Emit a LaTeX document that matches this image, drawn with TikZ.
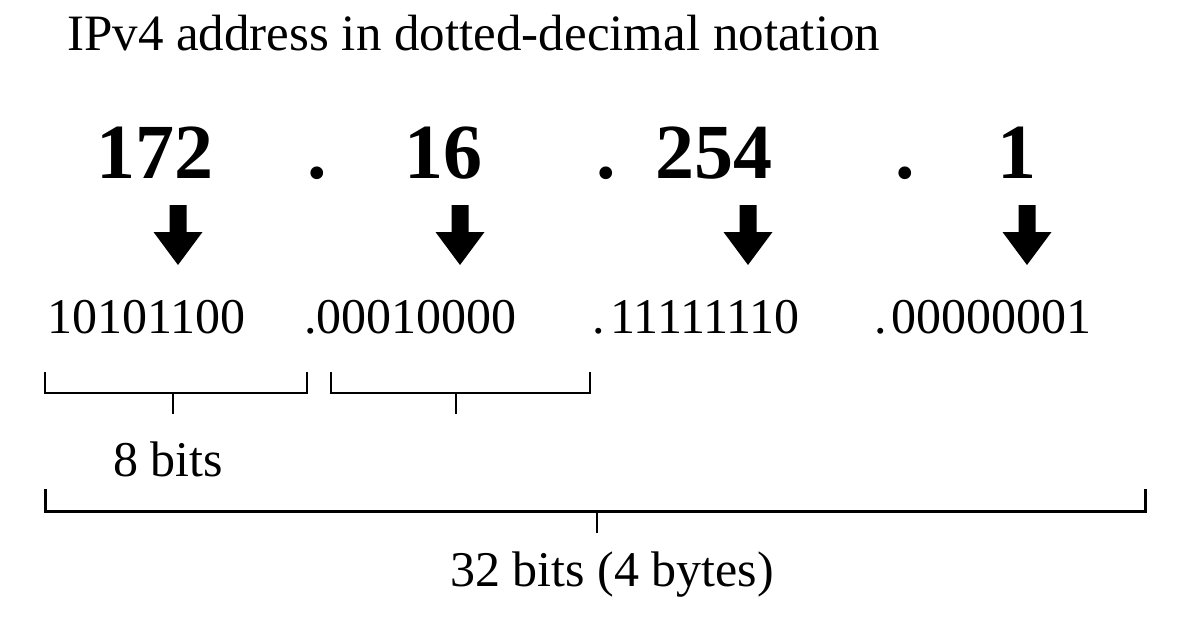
\documentclass[tikz,border=0pt]{standalone}
\usepackage{fontspec}
\setmainfont{Liberation Serif}
\begin{document}
\begin{tikzpicture}[x=1pt,y=-1pt,
  big/.style={font=\fontsize{78}{78}\selectfont\bfseries, inner sep=0pt, anchor=base},
  bin/.style={font=\fontsize{50}{50}\selectfont, inner sep=0pt, anchor=base west},
  lbl/.style={font=\fontsize{50}{50}\selectfont, inner sep=0pt, anchor=base},
  brk/.style={line width=2.8pt, line cap=butt, line join=miter},
  pics/blockarrow/.style={code={
    \fill[black] (-8.5,0) -- (8.5,0) -- (8.5,27) -- (24.5,27) -- (0,60) -- (-24.5,27) -- (-8.5,27) -- cycle;}}
]
\useasboundingbox (0,0) rectangle (1200,627);
\fill[white] (0,0) rectangle (1200,627);

% title
\node[font=\fontsize{51}{51}\selectfont, inner sep=0pt, anchor=base west] (title) at (67,50) {IPv4 address in dotted-decimal notation};

% decimal octets
\node[big] (d1) at (155,178) {172};
\node[big] (p1) at (317,178) {.};
\node[big] (d2) at (443,178) {16};
\node[big] (p2) at (606,178) {.};
\node[big] (d3) at (714,178) {254};
\node[big] (p3) at (905,178) {.};
\node[big] (d4) at (1017,178) {1};

% block arrows
\pic at (178,205) {blockarrow};
\pic at (460,205) {blockarrow};
\pic at (748,205) {blockarrow};
\pic at (1027,205) {blockarrow};

% binary octets
\node[bin] (b1) at (47,333) {10101100};
\node[bin] (b2) at (304,333) {.00010000};
\node[bin] (b3) at (592,333) {.\kern6pt 11111110};
\node[bin] (b4) at (874,333) {.\kern5pt 00000001};

% brackets
\draw[brk] (45,372) -- (45,393) -- (307,393) -- (307,372);
\draw[brk] (173,393) -- (173,414);
\draw[brk] (331,372) -- (331,393) -- (590,393) -- (590,372);
\draw[brk] (456,393) -- (456,414);
\node[lbl] (l8) at (168,476) {8 bits};

\draw[brk, line width=3pt] (45,489) -- (45,511) -- (1145,511) -- (1145,489);
\draw[brk] (597,511) -- (597,533);
\node[lbl] (l32) at (612,586) {32 bits (4 bytes)};
\end{tikzpicture}
\end{document}
